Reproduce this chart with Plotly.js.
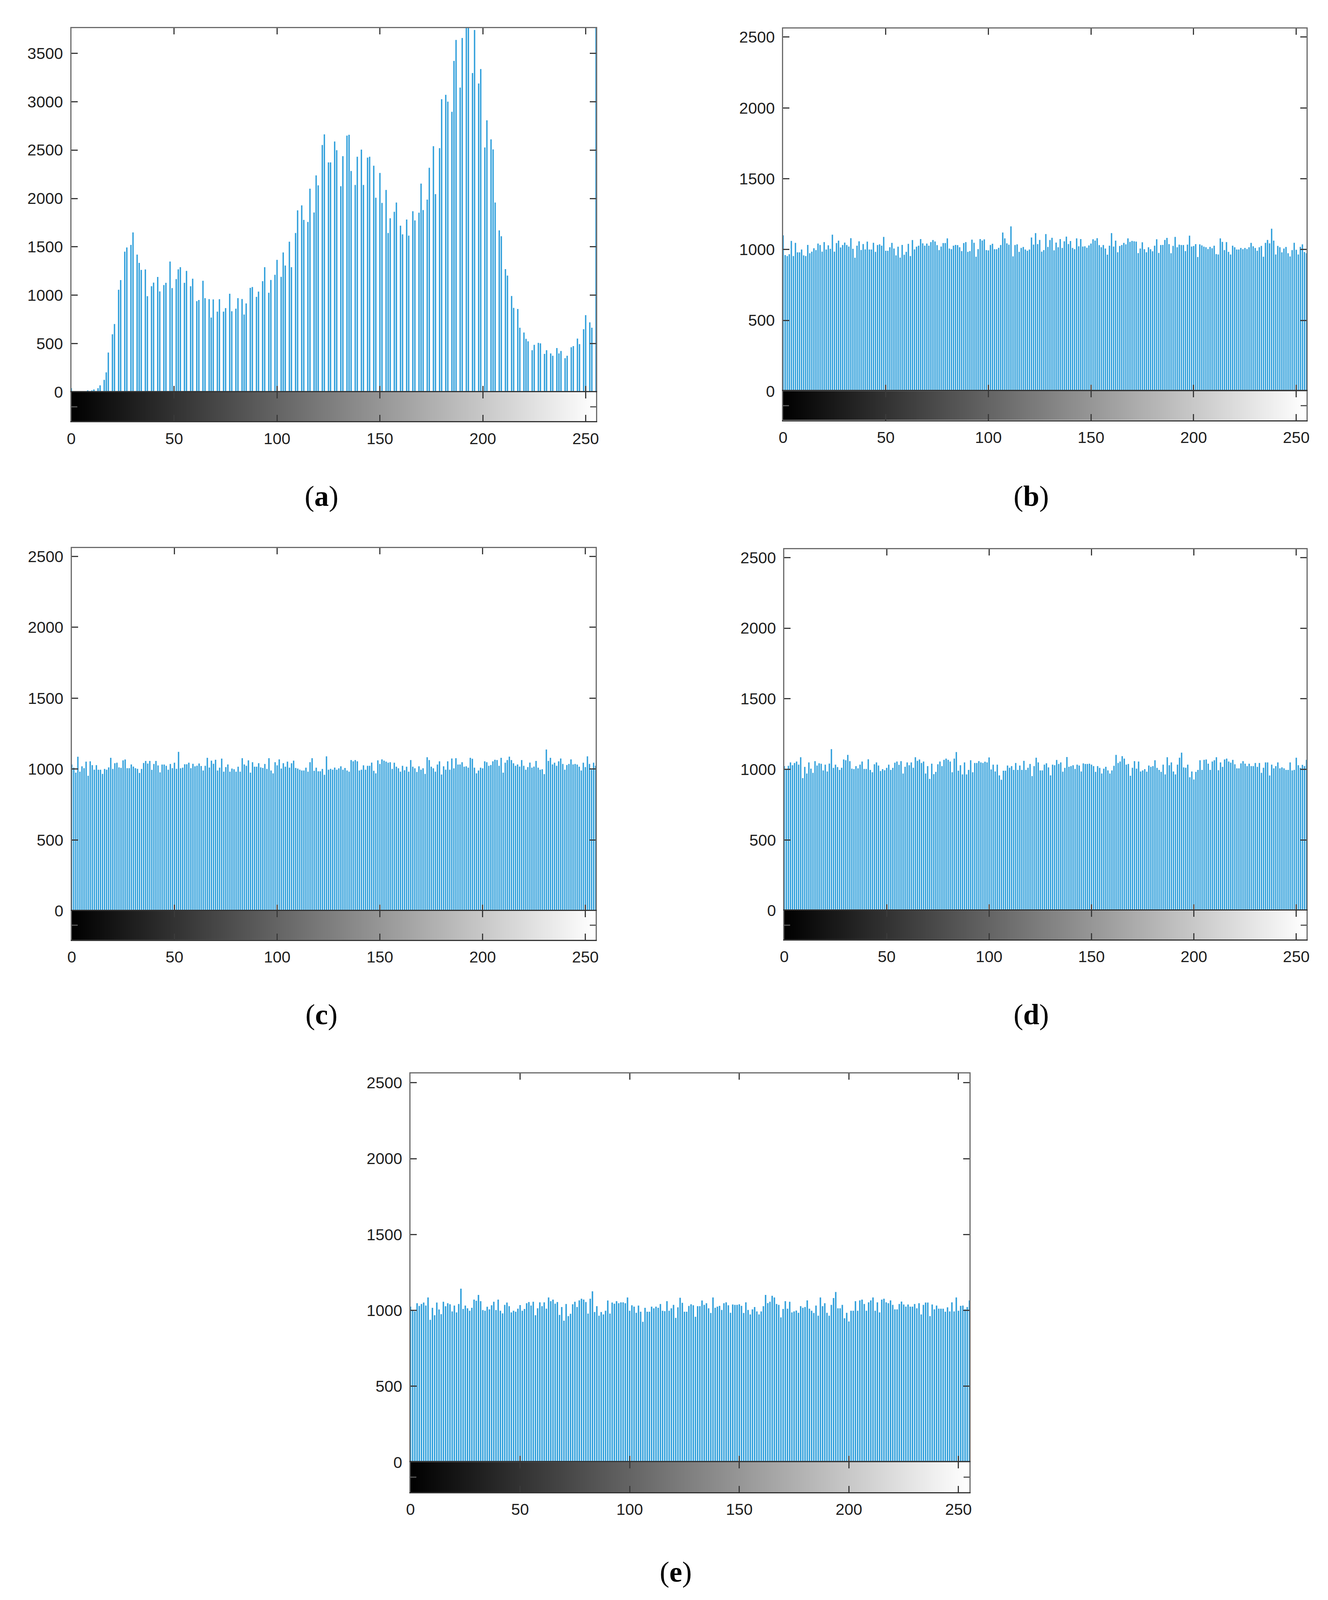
<!DOCTYPE html>
<html>
<head>
<meta charset="utf-8">
<script src="https://cdn.plot.ly/plotly-3.0.1.min.js"></script>
<style>html,body{margin:0;padding:0;background:#fff;overflow:hidden;}#chart{width:3400px;}</style>
</head>
<body>
<div id="chart"></div>
<script>
// ---------- DATA ----------
const panelLabels = ["a", "b", "c", "d", "e"];
const xTickVals = [0, 50, 100, 150, 200, 250];
const yTicksA = [0, 500, 1000, 1500, 2000, 2500, 3000, 3500];
const yTicksBE = [0, 500, 1000, 1500, 2000, 2500];

// (a) histogram of the plain image, gray levels 0..255
const histA = [
  40, 0, 0, 0, 0, 0, 0, 0, 17, 0, 17, 27, 0, 40, 70, 0,
  126, 204, 409, 0, 597, 703, 0, 1057, 1157, 0, 1451, 1494, 0, 1520, 1649, 0,
  1420, 1335, 1262, 0, 1267, 991, 0, 1093, 1131, 0, 1189, 1040, 0, 1106, 1129, 0,
  1349, 1074, 0, 1167, 1268, 1290, 0, 1129, 1252, 0, 1093, 1171, 0, 939, 951, 0,
  1150, 970, 0, 960, 770, 957, 0, 831, 959, 0, 831, 868, 0, 1016, 835, 0,
  861, 970, 0, 961, 801, 916, 0, 1076, 1085, 0, 984, 1038, 0, 1146, 1290, 0,
  1026, 1158, 0, 1211, 1366, 0, 1190, 1442, 1307, 0, 1553, 1290, 0, 1643, 1877, 0,
  1929, 1778, 0, 1757, 2101, 0, 1855, 2238, 2135, 0, 2552, 2662, 0, 2372, 2372, 0,
  2588, 2498, 0, 2126, 2437, 0, 2649, 2658, 2284, 0, 2139, 2431, 0, 2504, 2139, 0,
  2422, 2431, 0, 2338, 2007, 0, 2263, 1954, 0, 2088, 1643, 1795, 0, 1862, 1958, 0,
  1719, 1629, 0, 1782, 1616, 0, 1868, 1773, 0, 1853, 2154, 1880, 0, 1988, 2317, 0,
  2540, 2045, 0, 2520, 3025, 0, 3070, 3000, 0, 2895, 3420, 3637, 0, 3145, 3657, 0,
  3900, 4100, 0, 3295, 3740, 0, 3187, 3337, 0, 2527, 2807, 0, 2610, 2507, 1958, 0,
  1670, 1610, 0, 1270, 1203, 0, 993, 870, 0, 858, 665, 0, 615, 550, 525, 0,
  433, 488, 0, 508, 503, 0, 395, 433, 0, 400, 375, 0, 455, 400, 425, 0,
  350, 375, 0, 463, 475, 0, 553, 495, 0, 650, 795, 0, 720, 665, 0, 5200
];

// (b)
const histB = [
  1100, 961, 954, 967, 1061, 954, 1047, 980, 980, 1000, 959, 954, 1033, 974, 985, 1009,
  996, 1042, 1032, 985, 1053, 1000, 1030, 1005, 1105, 985, 1046, 1063, 1015, 1032, 1049, 1032,
  1021, 1080, 1005, 942, 1027, 1058, 997, 1039, 1001, 1056, 1000, 1000, 1048, 984, 1032, 1037,
  1027, 1089, 991, 991, 1016, 1047, 1007, 959, 1020, 943, 1033, 963, 984, 1040, 954, 1067,
  1001, 1020, 1027, 1074, 1044, 1027, 1042, 1027, 1053, 1067, 1057, 1031, 996, 1021, 1046, 1046,
  1079, 1007, 1002, 1027, 1033, 1031, 1016, 989, 1046, 1053, 984, 989, 1070, 1048, 949, 1003,
  1074, 1064, 1072, 996, 994, 1032, 1041, 1002, 1002, 1012, 1032, 1120, 1079, 1044, 1034, 1164,
  952, 1032, 1037, 984, 1011, 1018, 1000, 991, 1000, 1085, 1035, 1116, 1038, 1068, 985, 996,
  1109, 1018, 1067, 1083, 995, 1049, 1016, 1074, 1011, 1058, 1091, 1039, 1060, 1011, 1002, 1079,
  1023, 1074, 1021, 1023, 1013, 1029, 1042, 1073, 1063, 1080, 1031, 1016, 1032, 1007, 964, 1027,
  1116, 1021, 1063, 981, 1025, 1032, 1047, 1037, 1079, 1054, 1061, 1058, 1056, 975, 1007, 1051,
  1002, 981, 1016, 1002, 988, 1027, 1073, 976, 1032, 1033, 1068, 1082, 1038, 974, 1026, 1089,
  1016, 1035, 1032, 1032, 989, 1035, 1098, 1021, 1025, 1038, 947, 1037, 1029, 1020, 1016, 1004,
  1019, 1009, 1027, 968, 965, 1079, 1054, 996, 1053, 984, 965, 1027, 1016, 1000, 1000, 1011,
  1002, 1011, 1004, 1016, 1047, 1023, 1011, 991, 1016, 1026, 949, 1047, 1068, 1044, 1147, 1063,
  965, 1026, 1016, 980, 1007, 1018, 974, 951, 996, 1048, 998, 965, 1019, 1037, 982, 974
];

// (c)
const histC = [
  1032, 1010, 975, 1087, 982, 1020, 1007, 1053, 953, 1055, 1028, 996, 1028, 996, 996, 966,
  1001, 996, 1012, 1080, 1001, 1042, 1045, 1012, 1009, 1062, 1068, 1007, 1007, 1033, 1018, 1007,
  1002, 973, 1001, 1043, 1058, 1039, 1058, 995, 1036, 1058, 1026, 977, 1032, 1032, 1023, 996,
  1036, 1007, 1045, 1002, 1122, 1006, 1010, 1034, 1034, 1045, 1007, 1038, 1020, 1024, 1040, 1022,
  990, 1023, 1080, 1011, 1060, 1038, 1066, 990, 1010, 1074, 982, 1014, 1033, 982, 1004, 999,
  982, 1017, 982, 1077, 1033, 1023, 1062, 975, 1049, 1017, 1017, 1042, 1012, 1008, 1036, 1001,
  1077, 990, 970, 1049, 1027, 1069, 1004, 1042, 1017, 1053, 1010, 1041, 1060, 1008, 1004, 996,
  990, 990, 1010, 982, 1049, 1077, 988, 1010, 985, 985, 1001, 960, 1090, 996, 1002, 996,
  1011, 996, 1005, 1020, 996, 1008, 990, 982, 1064, 1055, 1064, 1055, 990, 996, 1027, 996,
  1023, 1023, 1046, 988, 970, 1062, 1036, 1069, 1060, 1053, 1045, 1049, 1001, 1045, 1017, 1006,
  982, 1023, 992, 1017, 982, 1064, 1017, 1006, 980, 1020, 996, 1006, 966, 1084, 1064, 1017,
  1006, 982, 1032, 1055, 962, 1020, 996, 1055, 996, 1075, 1005, 1077, 1032, 1033, 1049, 1017,
  1020, 1010, 1080, 1073, 1010, 970, 990, 1010, 1005, 1055, 1049, 1023, 1029, 1055, 1066, 1064,
  1023, 1080, 975, 1045, 1064, 1088, 1064, 1041, 1023, 1033, 1018, 1064, 1023, 996, 1014, 1046,
  1010, 1018, 1058, 1010, 996, 999, 965, 1138, 1058, 1080, 1033, 1045, 1023, 1055, 1075, 1036,
  996, 1029, 1036, 1069, 1033, 1036, 1032, 1017, 990, 1045, 1014, 1090, 1036, 996, 1045, 1023
];

// (d)
const histD = [
  1023, 1003, 1025, 1049, 1029, 1045, 1055, 1033, 1086, 938, 1017, 970, 1049, 1005, 975, 1058,
  1027, 1043, 1039, 992, 1033, 985, 1041, 1143, 1010, 1033, 1016, 996, 1011, 1070, 1064, 1102,
  1058, 1005, 1001, 1023, 1007, 1033, 1055, 1003, 1003, 1071, 996, 979, 1036, 1049, 1027, 988,
  1001, 994, 1010, 1033, 996, 1010, 1047, 1055, 1032, 1058, 970, 1018, 1049, 1029, 1049, 1011,
  1086, 1060, 1070, 1045, 1055, 970, 1023, 932, 1040, 966, 982, 1036, 1055, 1023, 1067, 1076,
  1067, 1055, 979, 1076, 1122, 990, 1029, 964, 1049, 964, 996, 1064, 979, 1045, 1045, 1058,
  1049, 1045, 1054, 1049, 1084, 999, 1033, 985, 1033, 957, 926, 990, 990, 1027, 1011, 1023,
  996, 1045, 996, 1027, 996, 1060, 996, 1011, 1038, 952, 1023, 1082, 1049, 992, 992, 1033,
  1043, 1014, 957, 1033, 1029, 1066, 1038, 1049, 983, 1010, 1087, 1018, 1023, 1029, 1003, 1033,
  1027, 985, 1042, 1038, 1038, 1040, 1033, 1023, 982, 1023, 1010, 970, 1005, 1018, 992, 970,
  992, 1025, 1102, 1045, 1055, 1093, 1076, 1033, 1038, 954, 1011, 1058, 1005, 1055, 985, 992,
  1001, 983, 1027, 1017, 1023, 1064, 1010, 996, 982, 1033, 964, 1086, 1029, 1049, 985, 964,
  1033, 1082, 1118, 1014, 1011, 1033, 944, 985, 928, 982, 996, 1064, 996, 1067, 1070, 1040,
  996, 1055, 1064, 1086, 994, 1049, 1017, 1070, 1076, 1055, 1047, 1067, 1036, 1007, 1007, 1042,
  1058, 1040, 1023, 1040, 1023, 1023, 1045, 1017, 1045, 975, 1011, 1049, 1049, 956, 1033, 1007,
  1023, 1049, 1007, 1014, 1007, 996, 996, 1049, 992, 996, 1082, 1029, 1010, 1032, 1023, 1067
];

// (e)
const histE = [
  1025, 1001, 994, 1047, 1029, 1042, 1052, 1032, 1085, 938, 1017, 968, 1052, 1006, 975, 1057,
  1027, 1047, 1040, 993, 1032, 987, 1042, 1143, 1009, 1032, 1014, 998, 1017, 1071, 1063, 1102,
  1061, 1002, 998, 1024, 1007, 1034, 1057, 1002, 1071, 998, 980, 1036, 1052, 1028, 987, 998,
  991, 1011, 1035, 998, 1009, 1047, 1055, 1032, 1057, 968, 1014, 1053, 1028, 1053, 1011, 1085,
  1061, 1071, 1044, 1055, 970, 1022, 932, 1042, 962, 978, 1040, 1057, 1022, 1066, 1077, 1071,
  1055, 979, 1077, 1126, 989, 1028, 965, 989, 973, 998, 1065, 979, 1052, 1044, 1061, 1047,
  1053, 1053, 1047, 1085, 998, 1034, 1025, 984, 1032, 991, 925, 1017, 991, 991, 1025, 1014,
  1025, 1017, 1042, 998, 995, 1061, 998, 1014, 1036, 951, 1020, 1083, 1050, 991, 991, 1029,
  1040, 1034, 958, 1028, 1028, 1065, 1036, 1047, 1014, 983, 1085, 1017, 1025, 1030, 1003, 1047,
  1053, 1034, 984, 1039, 1036, 1036, 1040, 1030, 983, 1053, 1003, 973, 1007, 1022, 993, 973,
  993, 1028, 1102, 1048, 1057, 1096, 1085, 1042, 1036, 954, 1009, 1061, 1011, 1057, 987, 993,
  999, 984, 1028, 1017, 1022, 1066, 1011, 998, 983, 1032, 965, 1085, 1028, 1047, 984, 965,
  1036, 1081, 1121, 1014, 1014, 1036, 948, 984, 927, 998, 998, 1061, 998, 1066, 1071, 1042,
  998, 1053, 1066, 1085, 998, 1053, 987, 1071, 1077, 1053, 1047, 1066, 1036, 1007, 1007, 1042,
  1058, 1039, 1025, 1039, 1025, 1025, 1042, 1014, 1047, 973, 1036, 1052, 1052, 962, 1039, 1007,
  1032, 1011, 1011, 1011, 991, 1020, 993, 1053, 993, 1085, 998, 1030, 1032, 1007, 1022, 1065
];

// ---------- LAYOUT / DRAWING ----------
const W = 3400, H0 = 4307;
// fit the whole figure into the visible viewport (proportional layout)
const vh = window.innerHeight && window.innerHeight > 1000 ? window.innerHeight : H0;
const H = Math.min(H0, vh);
document.getElementById('chart').style.height = H + 'px';
const fx = px => px / W;
const fy = py => 1 - py / H0;
const levels = histA.map((_, i) => i);   // gray-level index 0..255

const panelData = [histA, histB, histC, histD, histE];
const panelYTicks = [yTicksA, yTicksBE, yTicksBE, yTicksBE, yTicksBE];
const panelYMax = [3760, 2560, 2560, 2560, 2560];
// pixel geometry (in 3400x4307 reference space):
// [left, right, top, zero, colorbarBottom, captionX, captionY]
const geom = [
  [182.5, 1525.8, 75.5, 1055.5, 1134, 823, 1335],
  [2005, 3345, 77, 1053, 1131, 2640, 1335],
  [183.6, 1525, 1475, 2452, 2530, 823, 2731],
  [2008, 3345, 1478, 2451, 2529, 2640, 2731],
  [1051, 2482, 2890, 3936, 4017, 1730, 4231]
];

const BAR = '#2f9fdb';
const AXC = '#6b6b6b';
const TICKC = '#3a3a3a';
const FONT = {family: 'Liberation Sans, Arial, sans-serif', size: 41, color: '#1f1f1f'};

const traces = [];
const layout = {
  width: W, height: H,
  margin: {l: 0, r: 0, t: 0, b: 0},
  paper_bgcolor: '#ffffff', plot_bgcolor: '#ffffff',
  showlegend: false,
  annotations: []
};

panelData.forEach((vals, k) => {
  const g = geom[k];
  const nH = 2 * k + 1, nC = 2 * k + 2;
  const sx = n => (n === 1 ? '' : String(n));
  traces.push({
    type: 'bar', x: levels, y: vals, width: 0.66,
    marker: {color: BAR, line: {width: 0}},
    xaxis: 'x' + sx(nH), yaxis: 'y' + sx(nH), hoverinfo: 'skip'
  });
  traces.push({
    type: 'heatmap', x: levels, y: [0], z: [levels],
    zmin: 0, zmax: 255, showscale: false,
    colorscale: [[0, '#000000'], [1, '#ffffff']],
    xaxis: 'x' + sx(nC), yaxis: 'y' + sx(nC), hoverinfo: 'skip'
  });
  const xd = [fx(g[0]), fx(g[1])];
  layout['xaxis' + sx(nH)] = {
    domain: xd, range: [0, 255], anchor: 'y' + sx(nH),
    showticklabels: false, ticks: 'inside', ticklen: 16, tickwidth: 3, tickcolor: TICKC,
    tickvals: xTickVals, mirror: 'ticks', showline: true, linecolor: AXC, linewidth: 3,
    showgrid: false, zeroline: false
  };
  layout['yaxis' + sx(nH)] = {
    domain: [fy(g[3]), fy(g[2])], range: [0, panelYMax[k]], anchor: 'x' + sx(nH),
    ticks: 'inside', ticklen: 16, tickwidth: 3, tickcolor: TICKC,
    tickvals: panelYTicks[k], ticktext: panelYTicks[k].map(String),
    tickfont: FONT, ticklabelstandoff: 10,
    mirror: 'ticks', showline: true, linecolor: AXC, linewidth: 3,
    showgrid: false, zeroline: false
  };
  layout['xaxis' + sx(nC)] = {
    domain: xd, range: [0, 255], anchor: 'y' + sx(nC),
    ticks: 'inside', ticklen: 16, tickwidth: 3, tickcolor: TICKC,
    tickvals: xTickVals, ticktext: xTickVals.map(String), tickfont: FONT, ticklabelstandoff: 6,
    mirror: 'ticks', showline: true, linecolor: '#333333', linewidth: 3,
    showgrid: false, zeroline: false
  };
  layout['yaxis' + sx(nC)] = {
    domain: [fy(g[4]), fy(g[3])], range: [-0.5, 0.5], anchor: 'x' + sx(nC),
    showticklabels: false, ticks: 'inside', ticklen: 15, tickwidth: 3, tickcolor: '#555555',
    tickvals: [0], mirror: 'ticks', showline: true,
    linecolor: AXC, linewidth: 3, showgrid: false, zeroline: false
  };
  layout.annotations.push({
    xref: 'paper', yref: 'paper', x: fx(g[5]), y: fy(g[6]),
    xanchor: 'center', yanchor: 'middle', showarrow: false,
    text: '(<b>' + panelLabels[k] + '</b>)',
    font: {family: 'Liberation Serif, Times New Roman, serif', size: 74, color: '#000000'}
  });
});

Plotly.newPlot('chart', traces, layout, {staticPlot: true, displayModeBar: false});
</script>
</body>
</html>
